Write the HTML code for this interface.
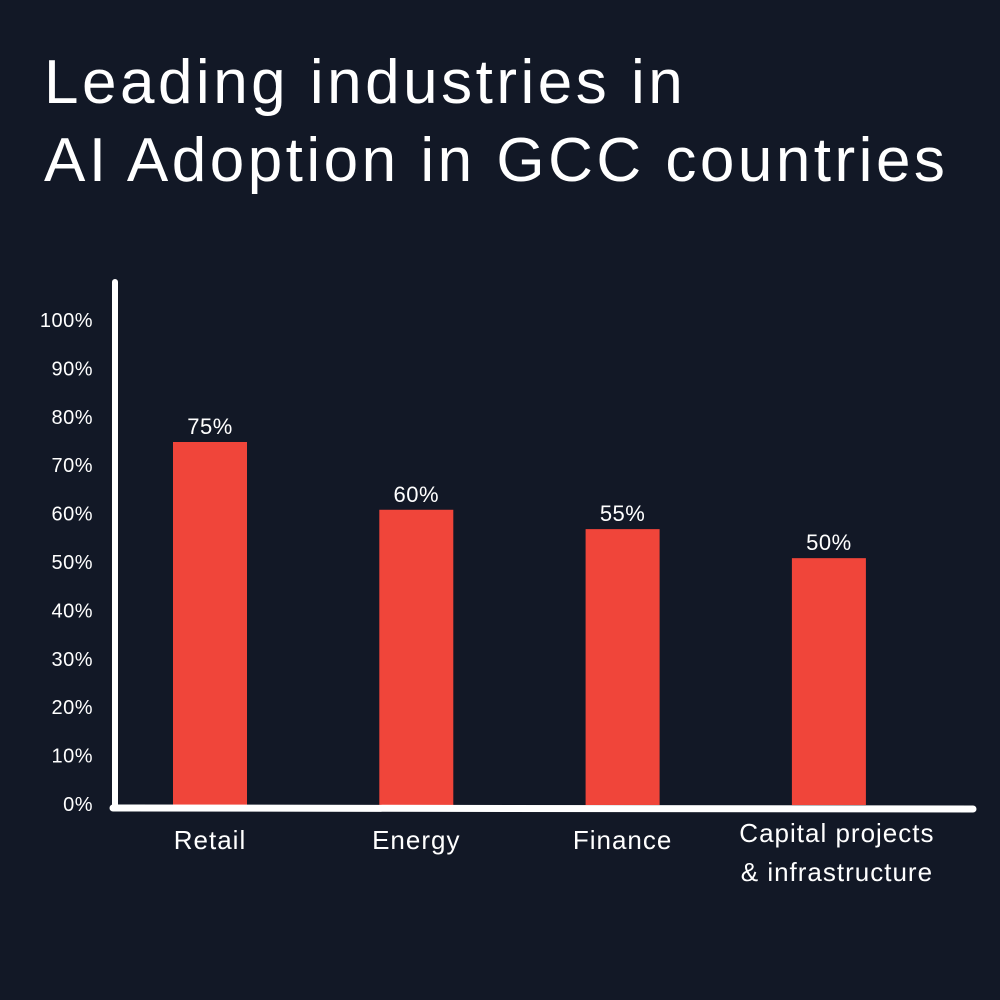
<!DOCTYPE html>
<html><head><meta charset="utf-8"><style>
html,body{margin:0;padding:0;background:#121826;}
body{width:1000px;height:1000px;position:relative;overflow:hidden;font-family:"Liberation Sans",sans-serif;color:#fff;}
h1{position:absolute;left:44px;top:44px;margin:0;font-size:62px;font-weight:500;line-height:78px;letter-spacing:3.5px;white-space:nowrap;}
</style></head><body>
<h1>Leading industries in<br>AI Adoption in GCC countries</h1>
<svg id="chart" width="1000" height="1000" style="position:absolute;left:0;top:0"></svg>
<script>
const categories = ["Retail","Energy","Finance","Capital projects|& infrastructure"];
const values = [75, 61, 57, 51];
const valueLabels = ["75%","60%","55%","50%"];
const ticks = [0,10,20,30,40,50,60,70,80,90,100];
const NS="http://www.w3.org/2000/svg";
const svg=document.getElementById('chart');
const y0=805, y100=321;
function y(v){return y0-(v/100)*(y0-y100);}
const cx0=210, step=206.3, bw=74;
function x(i){return cx0+i*step;}
function mk(t,a){const e=document.createElementNS(NS,t);for(const k in a)e.setAttribute(k,a[k]);svg.appendChild(e);return e;}
ticks.forEach(t=>{
  const e=mk('text',{x:93,y:y(t)+6,'text-anchor':'end','font-size':20,fill:'#fff','font-family':'Liberation Sans, sans-serif','letter-spacing':0.5});
  e.textContent=t+'%';
  
  
});
values.forEach((v,i)=>{
  const r=mk('rect',{x:x(i)-bw/2,y:y(v),width:bw,height:y0-y(v),fill:'#F0453A'});
  
  
  const t=mk('text',{x:x(i),y:y(v)-8,'text-anchor':'middle','font-size':22,fill:'#fff','font-family':'Liberation Sans, sans-serif','letter-spacing':0.5});
  t.textContent=valueLabels[i];
  
  
  const lines=categories[i].split('|');
  lines.forEach((ln,j)=>{
    const c=mk('text',{x:x(i)+(lines.length>1?8:0),y:(lines.length>1?842:849)+j*39,'text-anchor':'middle','font-size':26,fill:'#fff','font-family':'Liberation Sans, sans-serif','letter-spacing':1});
    c.textContent=ln;
    
    
  });
});
const ya=mk('line',{x1:115,y1:282,x2:115,y2:808,stroke:'#fff','stroke-width':6,'stroke-linecap':'round'});


const xa=mk('line',{x1:113,y1:808,x2:973,y2:809,stroke:'#fff','stroke-width':7,'stroke-linecap':'round'});


</script>
</body></html>
